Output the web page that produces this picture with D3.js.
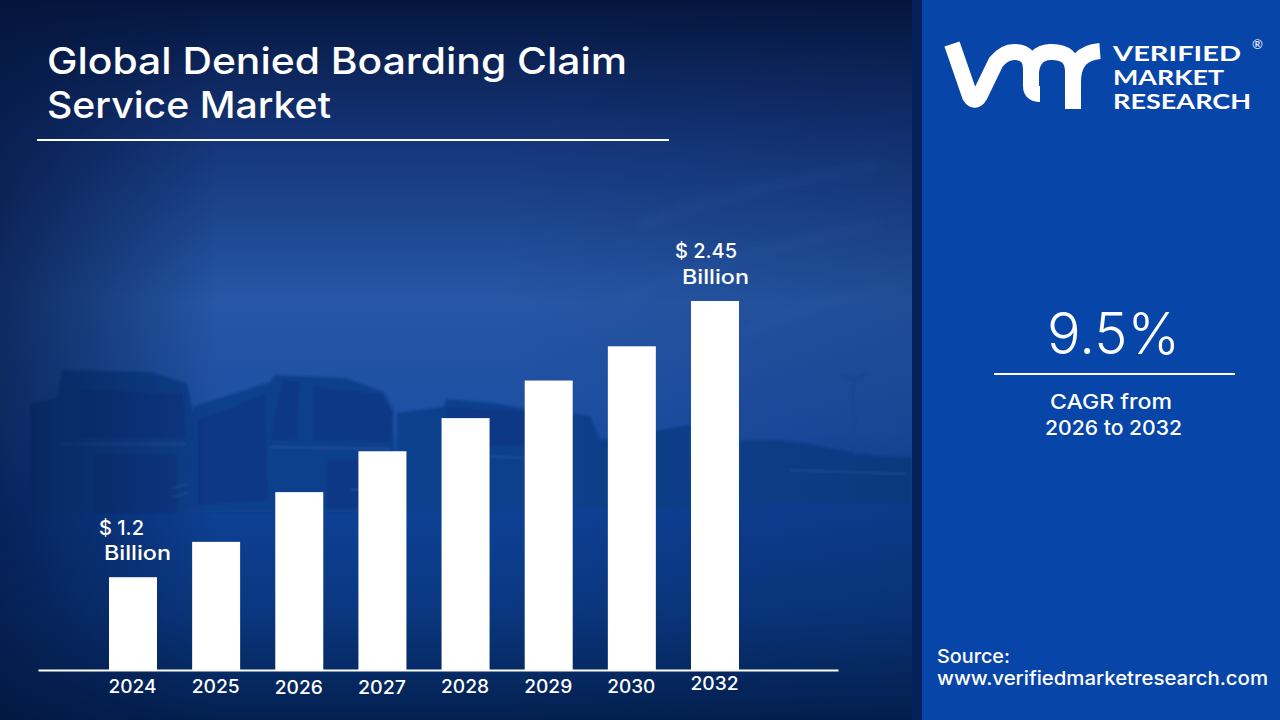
<!DOCTYPE html>
<html>
<head>
<meta charset="utf-8">
<script src="https://cdn.jsdelivr.net/npm/d3@7"></script>
<style>
  html, body { margin: 0; padding: 0; background: #06173f; }
  svg { display: block; }
  text { fill: #fff; font-family: Inter, "Open Sans", sans-serif; }
</style>
</head>
<body>
<div id="wrapper"></div>
<script>
const years = ["2024", "2025", "2026", "2027", "2028", "2029", "2030", "2032"];
const marketValues = [1.2, 1.36, 1.585, 1.77, 1.92, 2.09, 2.245, 2.45];
const labelledYears = ["2024", "2032"];
const labelledTexts = ["$ 1.2", "$ 2.45"];
const titleLines = ["Global Denied Boarding Claim", "Service Market"];
const cagrLines = ["CAGR from", "2026 to 2032"];
const sourceLines = ["Source:", "www.verifiedmarketresearch.com"];
const logoLines = ["VERIFIED", "MARKET", "RESEARCH"];

const width = 1280;
const height = 720;

const svg = d3.select("#wrapper")
  .append("svg")
  .attr("width", width)
  .attr("height", height);

const defs = svg.append("defs");

function addGradient(id, tag, attrs, stops) {
  const g = defs.append(tag).attr("id", id);
  Object.entries(attrs).forEach(([k, v]) => g.attr(k, v));
  stops.forEach(s => g.append("stop")
    .attr("offset", s[0])
    .attr("stop-color", s[1])
    .attr("stop-opacity", s[2] === undefined ? 1 : s[2]));
}

// stretch a text to the width it has in the picture, the fonts here are narrower
function fit(selection, widthOf) {
  selection.attr("textLength", widthOf).attr("lengthAdjust", "spacingAndGlyphs");
}

addGradient("sky", "linearGradient", { x1: 0, y1: 0, x2: 0, y2: 1 }, [
  [0, "#05163e"], [0.2, "#15367a"], [0.42, "#2657a6"], [0.6, "#1c4ea3"],
  [0.7, "#0e4197"], [0.85, "#0a377f"], [1, "#03204f"],
]);
addGradient("leftShade", "linearGradient", { x1: 0, y1: 0, x2: 1, y2: 0 }, [
  [0, "#03143c", 0.65], [0.24, "#03143c", 0],
]);
addGradient("rightShade", "linearGradient", { x1: 0, y1: 0, x2: 1, y2: 0 }, [
  [0, "#03143c", 0], [1, "#03143c", 0.15],
]);
defs.append("filter").attr("id", "soft")
  .append("feGaussianBlur").attr("stdDeviation", 1.2);
defs.append("filter").attr("id", "softer")
  .append("feGaussianBlur").attr("stdDeviation", 6);

// Background photo, only a rough silhouette of the trucks

const photo = svg.append("g");
photo.append("rect").attr("width", 912).attr("height", height).attr("fill", "url(#sky)");

const cloudStreaks = [
  "M640,225 Q730,190 880,165",
  "M620,300 Q740,250 880,225",
  "M740,335 Q810,300 900,285",
];
photo.append("g")
  .attr("filter", "url(#softer)")
  .selectAll("path")
  .data(cloudStreaks)
  .join("path")
  .attr("d", d => d)
  .attr("fill", "none")
  .attr("stroke", "#3a6cb8")
  .attr("stroke-opacity", 0.18)
  .attr("stroke-width", 7);

const trucks = photo.append("g").attr("filter", "url(#soft)");
const bodyShapes = [
  "M30,404 L57,398 L62,370 L150,372 L187,383 L193,413 L192,512 L30,512 Z",
  "M193,407 L270,382 L275,375 L345,378 L384,392 L393,410 L396,512 L193,512 Z",
  "M397,413 L443,407 L447,399 L500,404 L530,410 L530,510 L397,510 Z",
  "M530,420 L575,414 L590,416 L600,440 L690,425 L690,508 L530,508 Z",
  "M740,441 L775,440 L810,444 L850,452 L880,456 L912,458 L912,505 L740,505 Z",
];
trucks.selectAll("path.body")
  .data(bodyShapes)
  .join("path")
  .attr("class", "body")
  .attr("d", d => d)
  .attr("fill", "#113f8c");
const windowShapes = [
  "M80,390 L183,394 L186,438 L80,438 Z",
  "M313,387 L380,394 L392,412 L392,442 L313,440 Z",
  "M447,407 L525,412 L530,445 L447,445 Z",
  "M93,455 L177,455 L177,513 L93,513 Z",
  "M327,460 L390,460 L392,508 L327,508 Z",
  "M270,440 L282,380 L300,382 L296,440 Z",
  "M198,420 L265,395 L268,500 L198,505 Z",
];
trucks.selectAll("path.win")
  .data(windowShapes)
  .join("path")
  .attr("class", "win")
  .attr("d", d => d)
  .attr("fill", "#0b3886");
const lightLines = [
  "M60,444 L185,444",
  "M172,488 L188,484",
  "M172,497 L188,493",
  "M270,447 L390,449",
  "M350,490 L392,486",
  "M460,455 L528,458",
  "M790,470 L905,474",
];
trucks.selectAll("path.light")
  .data(lightLines)
  .join("path")
  .attr("class", "light")
  .attr("d", d => d)
  .attr("fill", "none")
  .attr("stroke", "#2a5aa5")
  .attr("stroke-opacity", 0.5)
  .attr("stroke-width", 2);
trucks.append("path")
  .attr("d", "M853,379 L855,455 M842,376 L853,379 L865,375")
  .attr("fill", "none")
  .attr("stroke", "#1a4c9b")
  .attr("stroke-width", 2.5);

photo.append("rect").attr("width", 912).attr("height", height).attr("fill", "url(#leftShade)");
photo.append("rect").attr("x", 500).attr("width", 412).attr("height", height).attr("fill", "url(#rightShade)");

// Right panel

svg.append("rect").attr("x", 912).attr("width", 10).attr("height", height).attr("fill", "#052058");
svg.append("rect").attr("x", 922).attr("width", 358).attr("height", height).attr("fill", "#0845a9");

// Create scales

const xScale = d3.scaleBand()
  .domain(years)
  .range([38, 838])
  .paddingInner(0.4227)
  .paddingOuter(1.0225)
  .align(0.4176);

// the bars in the picture do not start from zero
const yScale = d3.scaleLinear()
  .domain([0.78, 2.45])
  .range([670, 301]);

// Draw bars

const bars = svg.append("g")
  .selectAll("rect")
  .data(years)
  .join("rect")
  .attr("x", d => xScale(d))
  .attr("y", (d, i) => yScale(marketValues[i]))
  .attr("width", xScale.bandwidth())
  .attr("height", (d, i) => yScale(yScale.domain()[0]) - yScale(marketValues[i]))
  .attr("fill", "#fff");

// Draw axis

const xAxis = svg.append("g")
  .attr("transform", "translate(0,670)")
  .call(d3.axisBottom(xScale).tickSize(0).tickSizeOuter(0));
xAxis.select(".domain").attr("stroke", "#fff").attr("stroke-width", 2);
xAxis.selectAll(".tick text")
  .attr("x", -0.5)
  .attr("y", 0)
  .attr("dy", d => d === "2032" ? 19.5 : (d === "2026" || d === "2027") ? 23.5 : 22.5)
  .attr("font-size", 18)
  .attr("font-weight", 500)
  .style("font-family", "Inter, sans-serif")
  .call(fit, 48);

// Value labels on first and last bar

const valueLabels = svg.append("g")
  .selectAll("g")
  .data(labelledYears)
  .join("g")
  .attr("transform", d => `translate(${xScale(d)},${yScale(marketValues[years.indexOf(d)])})`);
valueLabels.append("text")
  .attr("x", (d, i) => i === 0 ? -10 : -16)
  .attr("y", (d, i) => i === 0 ? -42 : -43)
  .attr("font-size", 20)
  .attr("font-weight", 500)
  .call(fit, (d, i) => i === 0 ? 45 : 62)
  .text((d, i) => labelledTexts[i]);
valueLabels.append("text")
  .attr("x", (d, i) => i === 0 ? -5 : -9)
  .attr("y", -17)
  .attr("font-size", 20)
  .attr("font-weight", 500)
  .call(fit, 67)
  .text("Billion");

// Title

svg.append("g").selectAll("text")
  .data(titleLines)
  .join("text")
  .attr("x", 47)
  .attr("y", (d, i) => 74 + i * 44)
  .attr("font-size", 37)
  .attr("font-weight", 500)
  .call(fit, (d, i) => i === 0 ? 580 : 284)
  .text(d => d);
svg.append("line")
  .attr("x1", 37).attr("x2", 669).attr("y1", 140).attr("y2", 140)
  .attr("stroke", "#fff").attr("stroke-width", 2);

// CAGR block

svg.append("text")
  .attr("x", 1047).attr("y", 354)
  .attr("font-size", 57)
  .attr("font-weight", 300)
  .call(fit, 133)
  .text("9.5%");
svg.append("line")
  .attr("x1", 994).attr("x2", 1235).attr("y1", 374).attr("y2", 374)
  .attr("stroke", "#fff").attr("stroke-width", 2);
svg.append("g").selectAll("text")
  .data(cagrLines)
  .join("text")
  .attr("x", (d, i) => i === 0 ? 1050 : 1045)
  .attr("y", (d, i) => 409 + i * 26)
  .attr("font-size", 20.5)
  .attr("font-weight", 500)
  .call(fit, (d, i) => i === 0 ? 122 : 137)
  .text(d => d);

// Source

svg.append("g").selectAll("text")
  .data(sourceLines)
  .join("text")
  .attr("x", 937)
  .attr("y", (d, i) => 663 + i * 22)
  .attr("font-size", 19)
  .attr("font-weight", 500)
  .call(fit, (d, i) => i === 0 ? 73 : 331)
  .text(d => d);

// Logo

const logo = svg.append("g")
  .attr("fill", "none")
  .attr("stroke", "#fff")
  .attr("stroke-width", 16);
logo.append("path").attr("d", "M952,44 L970,96 Q975,104 980,95 L996,62 Q1005,51 1016,52 Q1031,53 1031,70 L1031,86 Q1031,94 1040,94");
logo.append("path").attr("d", "M1031,72 Q1033,53 1050,52 Q1073,51 1073,72 L1073,109");
logo.append("path").attr("d", "M1073,82 Q1073,53 1100,51");

svg.append("g").selectAll("text")
  .data(logoLines)
  .join("text")
  .attr("x", 1113)
  .attr("y", (d, i) => 61 + i * 24)
  .attr("font-size", 20)
  .attr("font-weight", 700)
  .call(fit, (d, i) => [128, 111, 138][i])
  .style("font-family", "Lato, sans-serif")
  .text(d => d);
svg.append("text")
  .attr("x", 1252).attr("y", 49)
  .attr("font-size", 13)
  .style("font-family", "Lato, sans-serif")
  .text("®");
</script>
</body>
</html>
